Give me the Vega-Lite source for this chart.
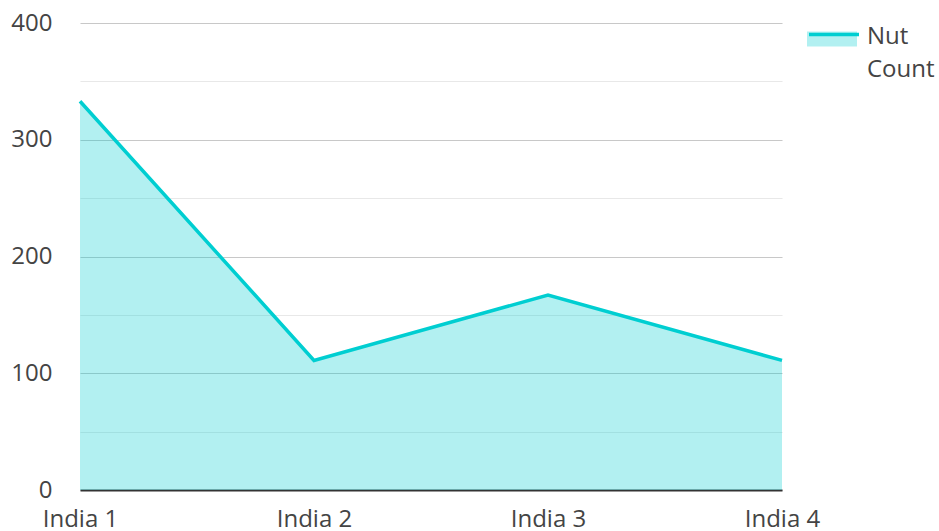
{
  "$schema": "https://vega.github.io/schema/vega-lite/v6.json",
  "width": 702,
  "height": 467,
  "autosize": {"type": "none"},
  "padding": {"left": 80, "top": 23, "right": 157, "bottom": 41},
  "background": "white",
  "config": {
    "view": {"stroke": null},
    "font": "Open Sans",
    "axis": {"labelFont": "Open Sans", "labelFontSize": 24, "labelColor": "#444444"},
    "legend": {"labelFont": "Open Sans", "labelFontSize": 24, "labelColor": "#444444"},
    "style": {"guide-label": {"lineHeight": 33}}
  },
  "data": {
    "values": [
      {"region": "India 1", "count": 333, "series": "Nut Count"},
      {"region": "India 2", "count": 111, "series": "Nut Count"},
      {"region": "India 3", "count": 167, "series": "Nut Count"},
      {"region": "India 4", "count": 111, "series": "Nut Count"}
    ]
  },
  "encoding": {
    "x": {
      "field": "region",
      "type": "ordinal",
      "sort": null,
      "scale": {"type": "point", "padding": 0},
      "axis": {
        "title": null,
        "labelAngle": 0,
        "ticks": false,
        "labelPadding": 17,
        "domainColor": "#333333",
        "domainWidth": 2,
        "grid": false
      }
    },
    "y": {
      "field": "count",
      "type": "quantitative",
      "scale": {"domain": [0, 400], "nice": false},
      "axis": {
        "title": null,
        "values": [0, 50, 100, 150, 200, 250, 300, 350, 400],
        "labelExpr": "datum.value % 100 === 0 ? datum.label : ''",
        "ticks": false,
        "domain": false,
        "labelPadding": 28,
        "gridColor": {"condition": {"test": "datum.value % 100 === 0", "value": "#c8c8c8"}, "value": "#e8e8e8"},
        "gridWidth": 1.2
      }
    }
  },
  "layer": [
    {
      "mark": {"type": "area", "fillOpacity": 0.3, "interpolate": "linear"},
      "encoding": {
        "fill": {
          "field": "series",
          "type": "nominal",
          "scale": {"range": ["#00CED1"]},
          "legend": {
            "title": null,
            "orient": "none",
            "legendX": 727,
            "legendY": -13,
            "symbolType": "M-1,-0.14H1V0.46H-1Z",
            "symbolSize": 2500,
            "symbolOpacity": 0.3,
            "symbolStrokeWidth": 0,
            "labelOffset": 6,
            "labelExpr": "''"
          }
        }
      }
    },
    {
      "mark": {"type": "line", "strokeWidth": 3.5, "interpolate": "linear"},
      "encoding": {
        "stroke": {
          "field": "series",
          "type": "nominal",
          "scale": {"range": ["#00CED1"]},
          "legend": {
            "title": null,
            "orient": "none",
            "legendX": 727,
            "legendY": -13,
            "symbolType": "M-1,-0.1L1,-0.1",
            "symbolSize": 2500,
            "symbolStrokeWidth": 3.5,
            "labelOffset": 6,
            "labelExpr": "['Nut', 'Count']"
          }
        }
      }
    }
  ]
}
